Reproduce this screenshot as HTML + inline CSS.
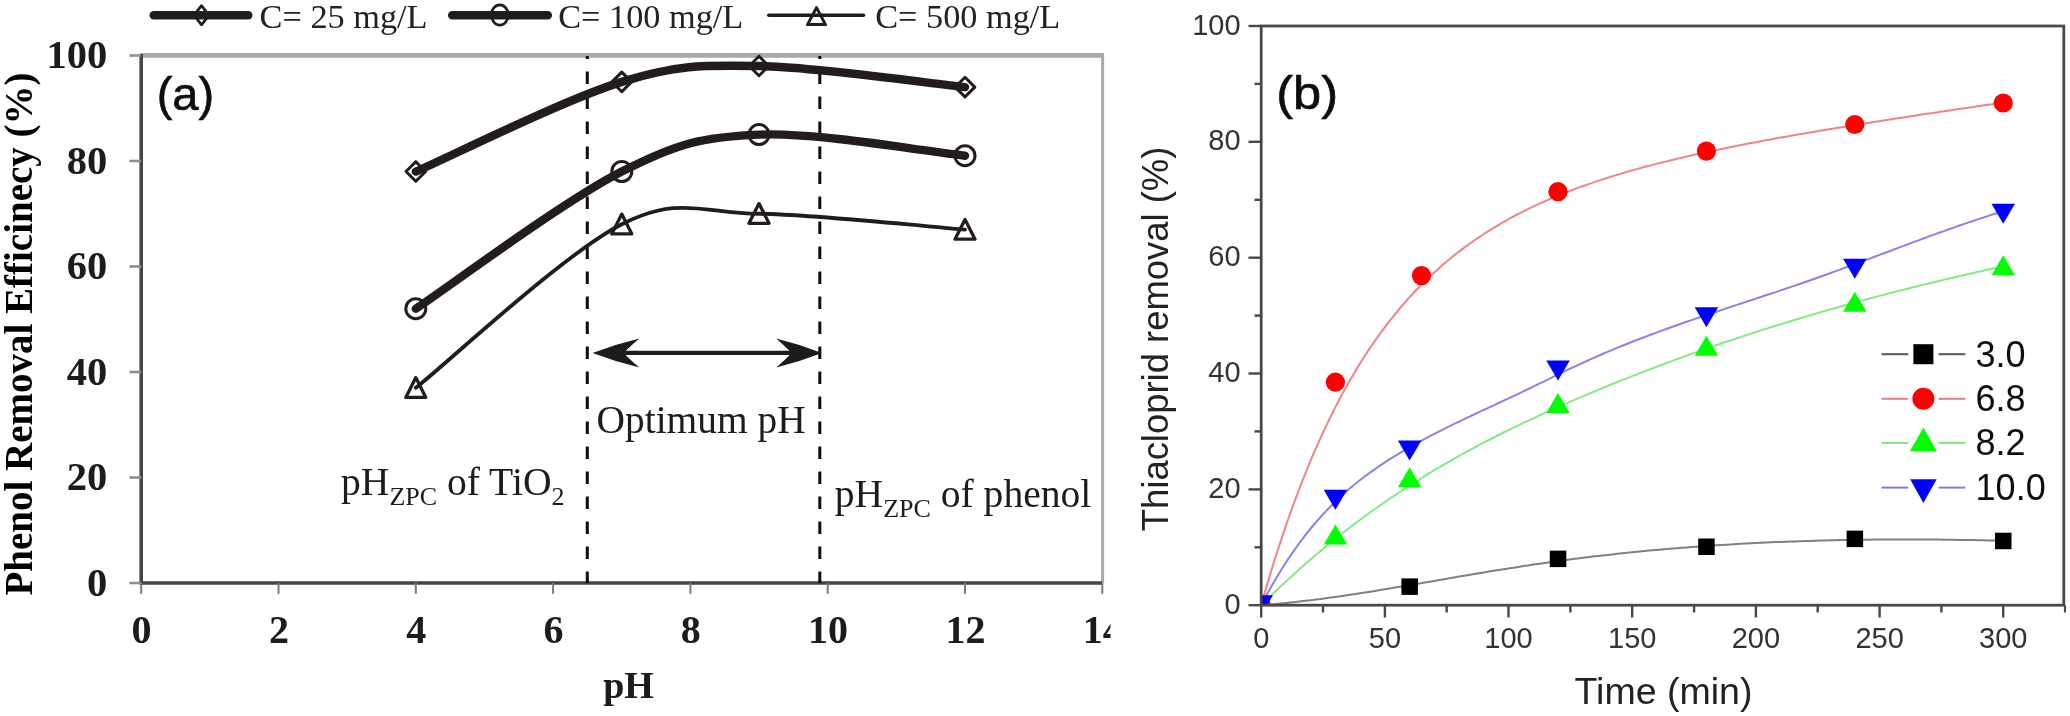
<!DOCTYPE html>
<html><head><meta charset="utf-8"><title>Figure</title>
<style>html,body{margin:0;padding:0;background:#fff;} svg{display:block;}</style></head>
<body><svg width="2070" height="716" viewBox="0 0 2070 716">
<defs><filter id="bl" x="0" y="0" width="100%" height="100%"><feGaussianBlur stdDeviation="0.5"/></filter><clipPath id="ca"><rect x="0" y="0" width="1110.5" height="716"/></clipPath><clipPath id="cb"><rect x="1261.2" y="26" width="802.6" height="579.2"/></clipPath></defs>
<rect width="2070" height="716" fill="#fff"/>
<g filter="url(#bl)">
<line x1="140.0" y1="55.4" x2="1104" y2="55.4" stroke="#a9a9a9" stroke-width="4.6"/>
<line x1="1102.6" y1="54" x2="1102.6" y2="583" stroke="#a9a9a9" stroke-width="3"/>
<line x1="141.2" y1="54" x2="141.2" y2="584.6" stroke="#444" stroke-width="3.6"/>
<line x1="139.5" y1="583" x2="1102" y2="583" stroke="#444" stroke-width="3.4"/>
<line x1="129.5" y1="583.0" x2="141.2" y2="583.0" stroke="#8f8f8f" stroke-width="2.6"/>
<line x1="129.5" y1="477.5" x2="141.2" y2="477.5" stroke="#8f8f8f" stroke-width="2.6"/>
<line x1="129.5" y1="372.0" x2="141.2" y2="372.0" stroke="#8f8f8f" stroke-width="2.6"/>
<line x1="129.5" y1="266.5" x2="141.2" y2="266.5" stroke="#8f8f8f" stroke-width="2.6"/>
<line x1="129.5" y1="161.0" x2="141.2" y2="161.0" stroke="#8f8f8f" stroke-width="2.6"/>
<line x1="129.5" y1="55.5" x2="141.2" y2="55.5" stroke="#8f8f8f" stroke-width="2.6"/>
<line x1="141.2" y1="583" x2="141.2" y2="593.8" stroke="#7a7a7a" stroke-width="2"/>
<line x1="278.5" y1="583" x2="278.5" y2="593.8" stroke="#7a7a7a" stroke-width="2"/>
<line x1="415.8" y1="583" x2="415.8" y2="593.8" stroke="#7a7a7a" stroke-width="2"/>
<line x1="553.1" y1="583" x2="553.1" y2="593.8" stroke="#7a7a7a" stroke-width="2"/>
<line x1="690.4" y1="583" x2="690.4" y2="593.8" stroke="#7a7a7a" stroke-width="2"/>
<line x1="827.7" y1="583" x2="827.7" y2="593.8" stroke="#7a7a7a" stroke-width="2"/>
<line x1="965.0" y1="583" x2="965.0" y2="593.8" stroke="#7a7a7a" stroke-width="2"/>
<line x1="1102.3" y1="583" x2="1102.3" y2="593.8" stroke="#7a7a7a" stroke-width="2"/>
<text x="107.3" y="595.6" text-anchor="end" font-family="'Liberation Serif','Times New Roman',serif" font-weight="bold" font-size="40.5" fill="#1a1a1a">0</text>
<text x="107.3" y="490.1" text-anchor="end" font-family="'Liberation Serif','Times New Roman',serif" font-weight="bold" font-size="40.5" fill="#1a1a1a">20</text>
<text x="107.3" y="384.6" text-anchor="end" font-family="'Liberation Serif','Times New Roman',serif" font-weight="bold" font-size="40.5" fill="#1a1a1a">40</text>
<text x="107.3" y="279.1" text-anchor="end" font-family="'Liberation Serif','Times New Roman',serif" font-weight="bold" font-size="40.5" fill="#1a1a1a">60</text>
<text x="107.3" y="173.6" text-anchor="end" font-family="'Liberation Serif','Times New Roman',serif" font-weight="bold" font-size="40.5" fill="#1a1a1a">80</text>
<text x="107.3" y="68.1" text-anchor="end" font-family="'Liberation Serif','Times New Roman',serif" font-weight="bold" font-size="40.5" fill="#1a1a1a">100</text>
<text x="141.6" y="643.4" text-anchor="middle" font-family="'Liberation Serif','Times New Roman',serif" font-weight="bold" font-size="40" fill="#1a1a1a">0</text>
<text x="278.9" y="643.4" text-anchor="middle" font-family="'Liberation Serif','Times New Roman',serif" font-weight="bold" font-size="40" fill="#1a1a1a">2</text>
<text x="416.2" y="643.4" text-anchor="middle" font-family="'Liberation Serif','Times New Roman',serif" font-weight="bold" font-size="40" fill="#1a1a1a">4</text>
<text x="553.5" y="643.4" text-anchor="middle" font-family="'Liberation Serif','Times New Roman',serif" font-weight="bold" font-size="40" fill="#1a1a1a">6</text>
<text x="690.8" y="643.4" text-anchor="middle" font-family="'Liberation Serif','Times New Roman',serif" font-weight="bold" font-size="40" fill="#1a1a1a">8</text>
<text x="828.1" y="643.4" text-anchor="middle" font-family="'Liberation Serif','Times New Roman',serif" font-weight="bold" font-size="40" fill="#1a1a1a">10</text>
<text x="965.4" y="643.4" text-anchor="middle" font-family="'Liberation Serif','Times New Roman',serif" font-weight="bold" font-size="40" fill="#1a1a1a">12</text>
<text x="1102.7" y="643.4" text-anchor="middle" font-family="'Liberation Serif','Times New Roman',serif" font-weight="bold" font-size="40" fill="#1a1a1a" clip-path="url(#ca)">14</text>
<text x="603.2" y="698.2" font-family="'Liberation Serif','Times New Roman',serif" font-weight="bold" font-size="38" fill="#1a1a1a">pH</text>
<text transform="translate(32.4,595.5) rotate(-90)" x="0" y="0" font-family="'Liberation Serif','Times New Roman',serif" font-weight="bold" font-size="39" textLength="523" lengthAdjust="spacingAndGlyphs">Phenol Removal Efficinecy (%)</text>
<line x1="587.3" y1="56" x2="587.3" y2="583" stroke="#111" stroke-width="3" stroke-dasharray="12.6 12.4" stroke-dashoffset="9.6"/>
<line x1="819.8" y1="56" x2="819.8" y2="583" stroke="#111" stroke-width="3" stroke-dasharray="12.6 12.4" stroke-dashoffset="9.6"/>
<line x1="610" y1="352.9" x2="805" y2="352.9" stroke="#1a1a1a" stroke-width="4.4"/>
<path d="M592.5,352.9 Q616,344 639.4,338.4 Q628,348 623.8,352.9 Q628,358 639.4,367.4 Q616,361.8 592.5,352.9 Z" fill="#1a1a1a"/>
<path d="M822,352.9 Q799,344 776.3,338.4 Q787,348 791.5,352.9 Q787,358 776.3,367.4 Q799,361.8 822,352.9 Z" fill="#1a1a1a"/>
<text x="596.6" y="432.5" font-family="'Liberation Serif','Times New Roman',serif" font-size="39.4" fill="#1a1a1a">Optimum pH</text>
<text x="341" y="495.3" font-family="'Liberation Serif','Times New Roman',serif" font-size="39.6" fill="#1a1a1a">pH<tspan font-size="26" dy="9.5">ZPC</tspan><tspan dy="-9.5"> of TiO</tspan><tspan font-size="26" dy="9.5">2</tspan></text>
<text x="834.8" y="507.2" font-family="'Liberation Serif','Times New Roman',serif" font-size="39.6" fill="#1a1a1a">pH<tspan font-size="26" dy="9.5">ZPC</tspan><tspan dy="-9.5"> of phenol</tspan></text>
<text x="156.7" y="110.4" font-family="'Liberation Sans',Arial,sans-serif" font-size="47" fill="#111" stroke="#111" stroke-width="0.7">(a)</text>
<path d="M415.80,171.55 C450.12,156.60 564.54,99.46 621.75,81.87 C678.96,64.29 701.84,65.17 759.05,66.05 C816.26,66.93 930.67,83.63 965.00,87.15" fill="none" stroke="#231f20" stroke-width="8.4" stroke-linecap="round" stroke-linejoin="round"/>
<path d="M415.8,161.7 L425.6,171.5 L415.8,181.3 L406.0,171.5 Z" fill="none" stroke="#231f20" stroke-width="3.0" stroke-linejoin="round"/>
<path d="M621.8,72.1 L631.5,81.9 L621.8,91.7 L612.0,81.9 Z" fill="none" stroke="#231f20" stroke-width="3.0" stroke-linejoin="round"/>
<path d="M759.0,56.2 L768.8,66.0 L759.0,75.8 L749.2,66.0 Z" fill="none" stroke="#231f20" stroke-width="3.0" stroke-linejoin="round"/>
<path d="M965.0,77.3 L974.8,87.1 L965.0,96.9 L955.2,87.1 Z" fill="none" stroke="#231f20" stroke-width="3.0" stroke-linejoin="round"/>
<path d="M415.80,308.70 C450.12,285.84 564.54,200.56 621.75,171.55 C678.96,142.54 701.84,137.26 759.05,134.62 C816.26,131.99 930.67,152.21 965.00,155.72" fill="none" stroke="#231f20" stroke-width="8.4" stroke-linecap="round" stroke-linejoin="round"/>
<circle cx="415.8" cy="308.7" r="10" fill="none" stroke="#231f20" stroke-width="3.0"/>
<circle cx="621.8" cy="171.5" r="10" fill="none" stroke="#231f20" stroke-width="3.0"/>
<circle cx="759.0" cy="134.6" r="10" fill="none" stroke="#231f20" stroke-width="3.0"/>
<circle cx="965.0" cy="155.7" r="10" fill="none" stroke="#231f20" stroke-width="3.0"/>
<path d="M415.80,387.82 C450.12,360.57 564.54,253.31 621.75,224.30 C678.96,195.29 701.84,212.87 759.05,213.75 C816.26,214.63 930.67,226.94 965.00,229.57" fill="none" stroke="#231f20" stroke-width="3.8" stroke-linecap="round" stroke-linejoin="round"/>
<path d="M415.8,377.6 L425.8,397.4 L405.8,397.4 Z" fill="none" stroke="#231f20" stroke-width="3.3" stroke-linejoin="round"/>
<path d="M621.8,214.1 L631.8,233.9 L611.8,233.9 Z" fill="none" stroke="#231f20" stroke-width="3.3" stroke-linejoin="round"/>
<path d="M759.0,203.6 L769.0,223.3 L749.0,223.3 Z" fill="none" stroke="#231f20" stroke-width="3.3" stroke-linejoin="round"/>
<path d="M965.0,219.4 L975.0,239.2 L955.0,239.2 Z" fill="none" stroke="#231f20" stroke-width="3.3" stroke-linejoin="round"/>
<line x1="153.8" y1="15.3" x2="248.2" y2="15.3" stroke="#231f20" stroke-width="8.6" stroke-linecap="round"/>
<path d="M201.5,5.6 L209.0,15.2 L201.5,24.8 L194.0,15.2 Z" fill="none" stroke="#231f20" stroke-width="2.7" stroke-linejoin="round"/>
<text x="259.6" y="27.5" font-family="'Liberation Serif','Times New Roman',serif" font-size="34.3" fill="#222">C= 25 mg/L</text>
<line x1="452.3" y1="15.3" x2="547.7" y2="15.3" stroke="#231f20" stroke-width="8.6" stroke-linecap="round"/>
<ellipse cx="499.8" cy="15" rx="8.5" ry="10.2" fill="none" stroke="#231f20" stroke-width="2.7"/>
<text x="558.2" y="27.5" font-family="'Liberation Serif','Times New Roman',serif" font-size="34.3" fill="#222">C= 100 mg/L</text>
<line x1="768.8" y1="15.3" x2="863.5" y2="15.3" stroke="#231f20" stroke-width="3.5" stroke-linecap="round"/>
<path d="M816.5,7.6 L825.5,24.6 L807.5,24.6 Z" fill="none" stroke="#231f20" stroke-width="3" stroke-linejoin="round"/>
<text x="875.2" y="27.5" font-family="'Liberation Serif','Times New Roman',serif" font-size="34.3" fill="#222">C= 500 mg/L</text>
<text x="1240.6" y="613.8" text-anchor="end" font-family="'Liberation Sans',Arial,sans-serif" font-size="29" fill="#333">0</text>
<text x="1240.6" y="498.0" text-anchor="end" font-family="'Liberation Sans',Arial,sans-serif" font-size="29" fill="#333">20</text>
<text x="1240.6" y="382.1" text-anchor="end" font-family="'Liberation Sans',Arial,sans-serif" font-size="29" fill="#333">40</text>
<text x="1240.6" y="266.3" text-anchor="end" font-family="'Liberation Sans',Arial,sans-serif" font-size="29" fill="#333">60</text>
<text x="1240.6" y="150.4" text-anchor="end" font-family="'Liberation Sans',Arial,sans-serif" font-size="29" fill="#333">80</text>
<text x="1240.6" y="34.6" text-anchor="end" font-family="'Liberation Sans',Arial,sans-serif" font-size="29" fill="#333">100</text>
<text x="1261.2" y="647.6" text-anchor="middle" font-family="'Liberation Sans',Arial,sans-serif" font-size="29" fill="#333">0</text>
<text x="1384.9" y="647.6" text-anchor="middle" font-family="'Liberation Sans',Arial,sans-serif" font-size="29" fill="#333">50</text>
<text x="1508.5" y="647.6" text-anchor="middle" font-family="'Liberation Sans',Arial,sans-serif" font-size="29" fill="#333">100</text>
<text x="1632.2" y="647.6" text-anchor="middle" font-family="'Liberation Sans',Arial,sans-serif" font-size="29" fill="#333">150</text>
<text x="1755.9" y="647.6" text-anchor="middle" font-family="'Liberation Sans',Arial,sans-serif" font-size="29" fill="#333">200</text>
<text x="1879.6" y="647.6" text-anchor="middle" font-family="'Liberation Sans',Arial,sans-serif" font-size="29" fill="#333">250</text>
<text x="2003.2" y="647.6" text-anchor="middle" font-family="'Liberation Sans',Arial,sans-serif" font-size="29" fill="#333">300</text>
<text x="1574.5" y="704.2" font-family="'Liberation Sans',Arial,sans-serif" font-size="37" fill="#222" textLength="178" lengthAdjust="spacingAndGlyphs">Time (min)</text>
<text transform="translate(1167.6,531.2) rotate(-90)" font-family="'Liberation Sans',Arial,sans-serif" font-size="37" fill="#222" textLength="384.5" lengthAdjust="spacingAndGlyphs">Thiacloprid removal (%)</text>
<text x="1276.2" y="108.6" font-family="'Liberation Sans',Arial,sans-serif" font-size="47" fill="#111" stroke="#111" stroke-width="0.7" textLength="61.8" lengthAdjust="spacingAndGlyphs">(b)</text>
<g clip-path="url(#cb)">
<polyline points="1261.2,605.2 1264.9,592.2 1268.6,579.6 1272.3,567.4 1276.0,555.5 1279.8,544.0 1283.5,532.9 1287.2,522.0 1290.9,511.5 1294.6,501.3 1298.3,491.4 1302.0,481.8 1305.7,472.5 1309.4,463.5 1313.1,454.7 1316.9,446.2 1320.6,437.9 1324.3,429.9 1328.0,422.1 1331.7,414.5 1335.4,407.1 1339.1,400.0 1342.8,393.1 1346.5,386.4 1350.2,379.8 1354.0,373.5 1357.7,367.3 1361.4,361.3 1365.1,355.5 1368.8,349.8 1372.5,344.4 1376.2,339.0 1379.9,333.8 1383.6,328.8 1387.3,323.9 1391.1,319.1 1394.8,314.5 1398.5,310.0 1402.2,305.6 1405.9,301.3 1409.6,297.2 1413.3,293.2 1417.0,289.3 1420.7,285.4 1424.5,281.7 1428.2,278.1 1431.9,274.6 1435.6,271.2 1439.3,267.9 1443.0,264.6 1446.7,261.5 1450.4,258.4 1454.1,255.4 1457.8,252.5 1461.6,249.6 1465.3,246.9 1469.0,244.2 1472.7,241.5 1476.4,239.0 1480.1,236.5 1483.8,234.0 1487.5,231.6 1491.2,229.3 1494.9,227.1 1498.7,224.8 1502.4,222.7 1506.1,220.6 1509.8,218.5 1513.5,216.5 1517.2,214.5 1520.9,212.6 1524.6,210.8 1528.3,208.9 1532.0,207.1 1535.8,205.4 1539.5,203.7 1543.2,202.0 1546.9,200.4 1550.6,198.7 1554.3,197.2 1558.0,195.6 1561.7,194.1 1565.4,192.7 1569.2,191.2 1572.9,189.8 1576.6,188.4 1580.3,187.0 1584.0,185.7 1587.7,184.4 1591.4,183.1 1595.1,181.9 1598.8,180.6 1602.5,179.4 1606.3,178.2 1610.0,177.0 1613.7,175.9 1617.4,174.8 1621.1,173.6 1624.8,172.5 1628.5,171.5 1632.2,170.4 1635.9,169.4 1639.6,168.3 1643.4,167.3 1647.1,166.3 1650.8,165.4 1654.5,164.4 1658.2,163.4 1661.9,162.5 1665.6,161.6 1669.3,160.7 1673.0,159.8 1676.7,158.9 1680.5,158.0 1684.2,157.1 1687.9,156.3 1691.6,155.4 1695.3,154.6 1699.0,153.8 1702.7,153.0 1706.4,152.2 1710.1,151.4 1713.9,150.6 1717.6,149.8 1721.3,149.0 1725.0,148.3 1728.7,147.5 1732.4,146.8 1736.1,146.0 1739.8,145.3 1743.5,144.6 1747.2,143.8 1751.0,143.1 1754.7,142.4 1758.4,141.7 1762.1,141.0 1765.8,140.3 1769.5,139.7 1773.2,139.0 1776.9,138.3 1780.6,137.6 1784.3,137.0 1788.1,136.3 1791.8,135.6 1795.5,135.0 1799.2,134.3 1802.9,133.7 1806.6,133.1 1810.3,132.4 1814.0,131.8 1817.7,131.2 1821.4,130.5 1825.2,129.9 1828.9,129.3 1832.6,128.7 1836.3,128.1 1840.0,127.5 1843.7,126.9 1847.4,126.3 1851.1,125.7 1854.8,125.1 1858.6,124.5 1862.3,123.9 1866.0,123.3 1869.7,122.7 1873.4,122.1 1877.1,121.5 1880.8,120.9 1884.5,120.3 1888.2,119.8 1891.9,119.2 1895.7,118.6 1899.4,118.0 1903.1,117.5 1906.8,116.9 1910.5,116.3 1914.2,115.8 1917.9,115.2 1921.6,114.6 1925.3,114.1 1929.0,113.5 1932.8,113.0 1936.5,112.4 1940.2,111.8 1943.9,111.3 1947.6,110.7 1951.3,110.2 1955.0,109.6 1958.7,109.1 1962.4,108.5 1966.1,108.0 1969.9,107.4 1973.6,106.9 1977.3,106.3 1981.0,105.8 1984.7,105.2 1988.4,104.7 1992.1,104.2 1995.8,103.6 1999.5,103.1 2003.2,102.5" fill="none" stroke="#f08484" stroke-width="2.0" stroke-linejoin="round"/>
<polyline points="1261.2,605.2 1266.1,600.3 1271.1,595.5 1276.0,590.7 1281.0,586.0 1285.9,581.4 1290.9,576.9 1295.8,572.4 1300.8,568.0 1305.7,563.6 1310.7,559.3 1315.6,555.1 1320.6,550.9 1325.5,546.8 1330.5,542.8 1335.4,538.8 1340.4,534.9 1345.3,531.0 1350.2,527.2 1355.2,523.4 1360.1,519.7 1365.1,516.1 1370.0,512.5 1375.0,509.0 1379.9,505.5 1384.9,502.0 1389.8,498.6 1394.8,495.3 1399.7,492.0 1404.7,488.8 1409.6,485.6 1414.6,482.4 1419.5,479.3 1424.5,476.2 1429.4,473.2 1434.3,470.2 1439.3,467.3 1444.2,464.4 1449.2,461.6 1454.1,458.7 1459.1,456.0 1464.0,453.2 1469.0,450.5 1473.9,447.8 1478.9,445.2 1483.8,442.6 1488.8,440.0 1493.7,437.5 1498.7,435.0 1503.6,432.5 1508.5,430.1 1513.5,427.7 1518.4,425.3 1523.4,422.9 1528.3,420.6 1533.3,418.3 1538.2,416.0 1543.2,413.7 1548.1,411.5 1553.1,409.2 1558.0,407.0 1563.0,404.9 1567.9,402.7 1572.9,400.6 1577.8,398.4 1582.8,396.3 1587.7,394.2 1592.6,392.2 1597.6,390.1 1602.5,388.1 1607.5,386.0 1612.4,384.0 1617.4,382.0 1622.3,380.1 1627.3,378.1 1632.2,376.1 1637.2,374.2 1642.1,372.3 1647.1,370.4 1652.0,368.5 1657.0,366.6 1661.9,364.7 1666.9,362.9 1671.8,361.1 1676.7,359.2 1681.7,357.4 1686.6,355.7 1691.6,353.9 1696.5,352.1 1701.5,350.4 1706.4,348.6 1711.4,346.9 1716.3,345.2 1721.3,343.5 1726.2,341.8 1731.2,340.2 1736.1,338.5 1741.1,336.9 1746.0,335.2 1751.0,333.6 1755.9,332.0 1760.8,330.4 1765.8,328.9 1770.7,327.3 1775.7,325.7 1780.6,324.2 1785.6,322.7 1790.5,321.2 1795.5,319.7 1800.4,318.2 1805.4,316.7 1810.3,315.2 1815.3,313.8 1820.2,312.3 1825.2,310.9 1830.1,309.5 1835.1,308.1 1840.0,306.7 1844.9,305.3 1849.9,303.9 1854.8,302.5 1859.8,301.2 1864.7,299.9 1869.7,298.5 1874.6,297.2 1879.6,295.9 1884.5,294.6 1889.5,293.3 1894.4,292.0 1899.4,290.8 1904.3,289.5 1909.3,288.3 1914.2,287.0 1919.2,285.8 1924.1,284.6 1929.0,283.4 1934.0,282.2 1938.9,281.0 1943.9,279.8 1948.8,278.6 1953.8,277.5 1958.7,276.3 1963.7,275.2 1968.6,274.0 1973.6,272.9 1978.5,271.8 1983.5,270.7 1988.4,269.6 1993.4,268.5 1998.3,267.4 2003.2,266.4" fill="none" stroke="#84ea84" stroke-width="2.0" stroke-linejoin="round"/>
<polyline points="1261.2,605.2 1266.1,595.9 1271.1,587.0 1276.0,578.5 1281.0,570.3 1285.9,562.5 1290.9,555.1 1295.8,548.0 1300.8,541.2 1305.7,534.7 1310.7,528.5 1315.6,522.6 1320.6,517.0 1325.5,511.6 1330.5,506.5 1335.4,501.6 1340.4,496.9 1345.3,492.4 1350.2,488.1 1355.2,484.0 1360.1,480.0 1365.1,476.2 1370.0,472.6 1375.0,469.1 1379.9,465.7 1384.9,462.4 1389.8,459.2 1394.8,456.1 1399.7,453.1 1404.7,450.2 1409.6,447.3 1414.6,444.5 1419.5,441.8 1424.5,439.1 1429.4,436.4 1434.3,433.9 1439.3,431.3 1444.2,428.8 1449.2,426.4 1454.1,423.9 1459.1,421.6 1464.0,419.2 1469.0,416.8 1473.9,414.5 1478.9,412.2 1483.8,409.9 1488.8,407.6 1493.7,405.3 1498.7,403.0 1503.6,400.7 1508.5,398.4 1513.5,396.1 1518.4,393.8 1523.4,391.4 1528.3,389.0 1533.3,386.6 1538.2,384.2 1543.2,381.8 1548.1,379.4 1553.1,376.9 1558.0,374.5 1563.0,372.1 1567.9,369.7 1572.9,367.4 1577.8,365.1 1582.8,362.8 1587.7,360.5 1592.6,358.3 1597.6,356.1 1602.5,354.0 1607.5,351.9 1612.4,349.8 1617.4,347.7 1622.3,345.7 1627.3,343.7 1632.2,341.8 1637.2,339.9 1642.1,338.0 1647.1,336.1 1652.0,334.2 1657.0,332.4 1661.9,330.6 1666.9,328.8 1671.8,327.0 1676.7,325.3 1681.7,323.5 1686.6,321.8 1691.6,320.1 1696.5,318.4 1701.5,316.7 1706.4,315.0 1711.4,313.4 1716.3,311.7 1721.3,310.1 1726.2,308.4 1731.2,306.8 1736.1,305.1 1741.1,303.5 1746.0,301.9 1751.0,300.3 1755.9,298.6 1760.8,297.0 1765.8,295.3 1770.7,293.7 1775.7,292.1 1780.6,290.4 1785.6,288.7 1790.5,287.1 1795.5,285.4 1800.4,283.7 1805.4,282.0 1810.3,280.3 1815.3,278.5 1820.2,276.8 1825.2,275.0 1830.1,273.2 1835.1,271.4 1840.0,269.6 1844.9,267.8 1849.9,266.0 1854.8,264.1 1859.8,262.3 1864.7,260.4 1869.7,258.6 1874.6,256.7 1879.6,254.9 1884.5,253.0 1889.5,251.2 1894.4,249.3 1899.4,247.4 1904.3,245.6 1909.3,243.7 1914.2,241.9 1919.2,240.1 1924.1,238.2 1929.0,236.4 1934.0,234.6 1938.9,232.8 1943.9,231.1 1948.8,229.3 1953.8,227.6 1958.7,225.8 1963.7,224.1 1968.6,222.4 1973.6,220.7 1978.5,219.1 1983.5,217.5 1988.4,215.9 1993.4,214.3 1998.3,212.7 2003.2,211.2" fill="none" stroke="#8484ea" stroke-width="2.0" stroke-linejoin="round"/>
<polyline points="1261.2,605.2 1266.1,604.8 1271.1,604.4 1276.0,603.9 1281.0,603.5 1285.9,603.0 1290.9,602.4 1295.8,601.9 1300.8,601.3 1305.7,600.8 1310.7,600.2 1315.6,599.5 1320.6,598.9 1325.5,598.2 1330.5,597.6 1335.4,596.9 1340.4,596.2 1345.3,595.4 1350.2,594.7 1355.2,594.0 1360.1,593.2 1365.1,592.4 1370.0,591.7 1375.0,590.9 1379.9,590.1 1384.9,589.2 1389.8,588.4 1394.8,587.6 1399.7,586.8 1404.7,585.9 1409.6,585.1 1414.6,584.3 1419.5,583.4 1424.5,582.6 1429.4,581.7 1434.3,580.9 1439.3,580.0 1444.2,579.2 1449.2,578.3 1454.1,577.5 1459.1,576.6 1464.0,575.8 1469.0,574.9 1473.9,574.1 1478.9,573.3 1483.8,572.5 1488.8,571.6 1493.7,570.8 1498.7,570.0 1503.6,569.2 1508.5,568.4 1513.5,567.7 1518.4,566.9 1523.4,566.1 1528.3,565.4 1533.3,564.6 1538.2,563.9 1543.2,563.2 1548.1,562.5 1553.1,561.8 1558.0,561.1 1563.0,560.4 1567.9,559.8 1572.9,559.1 1577.8,558.5 1582.8,557.8 1587.7,557.2 1592.6,556.6 1597.6,556.0 1602.5,555.5 1607.5,554.9 1612.4,554.4 1617.4,553.8 1622.3,553.3 1627.3,552.8 1632.2,552.3 1637.2,551.8 1642.1,551.3 1647.1,550.8 1652.0,550.3 1657.0,549.9 1661.9,549.4 1666.9,549.0 1671.8,548.6 1676.7,548.2 1681.7,547.8 1686.6,547.4 1691.6,547.0 1696.5,546.7 1701.5,546.3 1706.4,546.0 1711.4,545.6 1716.3,545.3 1721.3,545.0 1726.2,544.7 1731.2,544.4 1736.1,544.1 1741.1,543.8 1746.0,543.5 1751.0,543.3 1755.9,543.0 1760.8,542.8 1765.8,542.6 1770.7,542.3 1775.7,542.1 1780.6,541.9 1785.6,541.7 1790.5,541.5 1795.5,541.4 1800.4,541.2 1805.4,541.0 1810.3,540.9 1815.3,540.7 1820.2,540.6 1825.2,540.5 1830.1,540.3 1835.1,540.2 1840.0,540.1 1844.9,540.0 1849.9,539.9 1854.8,539.9 1859.8,539.8 1864.7,539.7 1869.7,539.7 1874.6,539.6 1879.6,539.6 1884.5,539.6 1889.5,539.5 1894.4,539.5 1899.4,539.5 1904.3,539.5 1909.3,539.5 1914.2,539.5 1919.2,539.5 1924.1,539.5 1929.0,539.6 1934.0,539.6 1938.9,539.6 1943.9,539.7 1948.8,539.7 1953.8,539.8 1958.7,539.9 1963.7,539.9 1968.6,540.0 1973.6,540.1 1978.5,540.2 1983.5,540.3 1988.4,540.4 1993.4,540.5 1998.3,540.6 2003.2,540.8" fill="none" stroke="#808080" stroke-width="2.0" stroke-linejoin="round"/>
<rect x="1253.0" y="597.0" width="16.5" height="16.5" fill="#000"/>
<rect x="1401.4" y="578.4" width="16.5" height="16.5" fill="#000"/>
<rect x="1549.8" y="550.6" width="16.5" height="16.5" fill="#000"/>
<rect x="1698.2" y="538.5" width="16.5" height="16.5" fill="#000"/>
<rect x="1846.6" y="530.6" width="16.5" height="16.5" fill="#000"/>
<rect x="1995.0" y="532.7" width="16.5" height="16.5" fill="#000"/>
<circle cx="1261.2" cy="605.2" r="9.6" fill="#ff0000"/>
<circle cx="1335.4" cy="382.2" r="9.6" fill="#ff0000"/>
<circle cx="1421.5" cy="275.6" r="9.6" fill="#ff0000"/>
<circle cx="1558.0" cy="191.7" r="9.6" fill="#ff0000"/>
<circle cx="1706.4" cy="151.1" r="9.6" fill="#ff0000"/>
<circle cx="1854.8" cy="124.5" r="9.6" fill="#ff0000"/>
<circle cx="2003.2" cy="103.0" r="9.6" fill="#ff0000"/>
<path d="M1261.2,595.2 L1273.0,615.2 L1249.5,615.2 Z" fill="#00ff00"/>
<path d="M1335.4,524.5 L1347.2,544.5 L1323.7,544.5 Z" fill="#00ff00"/>
<path d="M1409.6,467.2 L1421.4,487.2 L1397.9,487.2 Z" fill="#00ff00"/>
<path d="M1558.0,393.1 L1569.8,413.1 L1546.3,413.1 Z" fill="#00ff00"/>
<path d="M1706.4,335.7 L1718.2,355.7 L1694.7,355.7 Z" fill="#00ff00"/>
<path d="M1854.8,291.7 L1866.6,311.7 L1843.1,311.7 Z" fill="#00ff00"/>
<path d="M2003.2,255.2 L2015.0,275.2 L1991.5,275.2 Z" fill="#00ff00"/>
<path d="M1261.2,615.2 L1273.0,595.2 L1249.5,595.2 Z" fill="#0000ff"/>
<path d="M1335.4,509.8 L1347.2,489.8 L1323.7,489.8 Z" fill="#0000ff"/>
<path d="M1409.6,460.6 L1421.4,440.6 L1397.9,440.6 Z" fill="#0000ff"/>
<path d="M1558.0,380.6 L1569.8,360.6 L1546.3,360.6 Z" fill="#0000ff"/>
<path d="M1706.4,327.3 L1718.2,307.3 L1694.7,307.3 Z" fill="#0000ff"/>
<path d="M1854.8,278.7 L1866.6,258.7 L1843.1,258.7 Z" fill="#0000ff"/>
<path d="M2003.2,223.7 L2015.0,203.7 L1991.5,203.7 Z" fill="#0000ff"/>
</g>
<rect x="1261.2" y="26.0" width="802.6" height="579.2" fill="none" stroke="#484848" stroke-width="2.8"/>
<line x1="1248.5" y1="605.2" x2="1261.2" y2="605.2" stroke="#484848" stroke-width="2.4"/>
<line x1="1254.5" y1="547.3" x2="1261.2" y2="547.3" stroke="#484848" stroke-width="2.4"/>
<line x1="1248.5" y1="489.4" x2="1261.2" y2="489.4" stroke="#484848" stroke-width="2.4"/>
<line x1="1254.5" y1="431.4" x2="1261.2" y2="431.4" stroke="#484848" stroke-width="2.4"/>
<line x1="1248.5" y1="373.5" x2="1261.2" y2="373.5" stroke="#484848" stroke-width="2.4"/>
<line x1="1254.5" y1="315.6" x2="1261.2" y2="315.6" stroke="#484848" stroke-width="2.4"/>
<line x1="1248.5" y1="257.7" x2="1261.2" y2="257.7" stroke="#484848" stroke-width="2.4"/>
<line x1="1254.5" y1="199.8" x2="1261.2" y2="199.8" stroke="#484848" stroke-width="2.4"/>
<line x1="1248.5" y1="141.8" x2="1261.2" y2="141.8" stroke="#484848" stroke-width="2.4"/>
<line x1="1254.5" y1="83.9" x2="1261.2" y2="83.9" stroke="#484848" stroke-width="2.4"/>
<line x1="1248.5" y1="26.0" x2="1261.2" y2="26.0" stroke="#484848" stroke-width="2.4"/>
<line x1="1261.2" y1="605.2" x2="1261.2" y2="617.5" stroke="#484848" stroke-width="2.4"/>
<line x1="1323.0" y1="605.2" x2="1323.0" y2="612.5" stroke="#484848" stroke-width="2.4"/>
<line x1="1384.9" y1="605.2" x2="1384.9" y2="617.5" stroke="#484848" stroke-width="2.4"/>
<line x1="1446.7" y1="605.2" x2="1446.7" y2="612.5" stroke="#484848" stroke-width="2.4"/>
<line x1="1508.5" y1="605.2" x2="1508.5" y2="617.5" stroke="#484848" stroke-width="2.4"/>
<line x1="1570.4" y1="605.2" x2="1570.4" y2="612.5" stroke="#484848" stroke-width="2.4"/>
<line x1="1632.2" y1="605.2" x2="1632.2" y2="617.5" stroke="#484848" stroke-width="2.4"/>
<line x1="1694.1" y1="605.2" x2="1694.1" y2="612.5" stroke="#484848" stroke-width="2.4"/>
<line x1="1755.9" y1="605.2" x2="1755.9" y2="617.5" stroke="#484848" stroke-width="2.4"/>
<line x1="1817.7" y1="605.2" x2="1817.7" y2="612.5" stroke="#484848" stroke-width="2.4"/>
<line x1="1879.6" y1="605.2" x2="1879.6" y2="617.5" stroke="#484848" stroke-width="2.4"/>
<line x1="1941.4" y1="605.2" x2="1941.4" y2="612.5" stroke="#484848" stroke-width="2.4"/>
<line x1="2003.2" y1="605.2" x2="2003.2" y2="617.5" stroke="#484848" stroke-width="2.4"/>
<line x1="2065.1" y1="605.2" x2="2065.1" y2="612.5" stroke="#484848" stroke-width="2.4"/>
<line x1="1881.5" y1="354.2" x2="1908.3" y2="354.2" stroke="#555555" stroke-width="2"/>
<line x1="1938.5" y1="354.2" x2="1965.3" y2="354.2" stroke="#555555" stroke-width="2"/>
<rect x="1913.4" y="344.2" width="20" height="20" fill="#000"/>
<text x="1975.6" y="366.5" font-family="'Liberation Sans',Arial,sans-serif" font-size="36" fill="#111">3.0</text>
<line x1="1881.5" y1="398.8" x2="1908.3" y2="398.8" stroke="#e87a8a" stroke-width="2"/>
<line x1="1938.5" y1="398.8" x2="1965.3" y2="398.8" stroke="#e87a8a" stroke-width="2"/>
<circle cx="1923.4" cy="398.8" r="11" fill="#ff0000"/>
<text x="1975.6" y="411.1" font-family="'Liberation Sans',Arial,sans-serif" font-size="36" fill="#111">6.8</text>
<line x1="1881.5" y1="442.9" x2="1908.3" y2="442.9" stroke="#7ce87c" stroke-width="2"/>
<line x1="1938.5" y1="442.9" x2="1965.3" y2="442.9" stroke="#7ce87c" stroke-width="2"/>
<path d="M1923.4,427.5 L1936.9,451.3 L1909.9,451.3 Z" fill="#00ff00"/>
<text x="1975.6" y="455.2" font-family="'Liberation Sans',Arial,sans-serif" font-size="36" fill="#111">8.2</text>
<line x1="1881.5" y1="487.6" x2="1908.3" y2="487.6" stroke="#7c7ce8" stroke-width="2"/>
<line x1="1938.5" y1="487.6" x2="1965.3" y2="487.6" stroke="#7c7ce8" stroke-width="2"/>
<path d="M1923.4,503.0 L1936.7,479.2 L1910.2,479.2 Z" fill="#0000ff"/>
<text x="1975.6" y="499.9" font-family="'Liberation Sans',Arial,sans-serif" font-size="36" fill="#111">10.0</text>
</g>
</svg></body></html>
